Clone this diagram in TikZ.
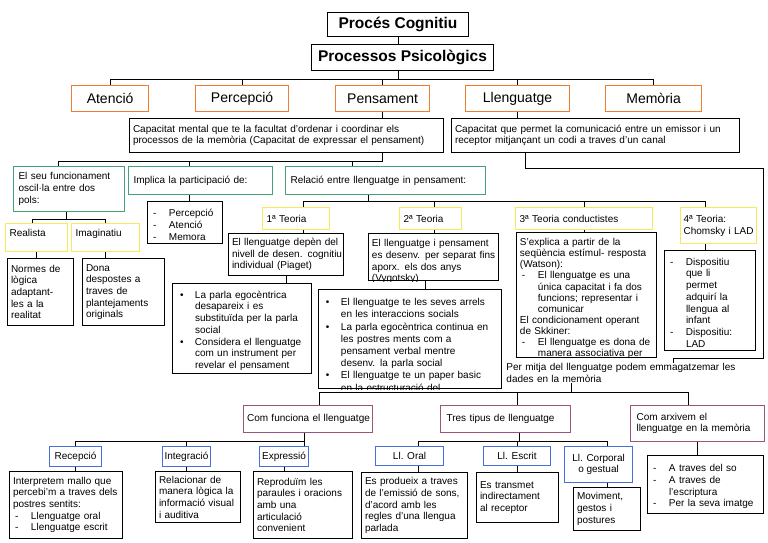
\documentclass[tikz,border=0pt]{standalone}
\usepackage{fontspec}
\setmainfont{Liberation Sans}
\definecolor{OrangeLine}{RGB}{237,125,49}
\definecolor{GreenLine}{RGB}{72,160,120}
\definecolor{YellowLine}{RGB}{246,234,90}
\definecolor{BlueLine}{RGB}{72,110,215}
\definecolor{PlumLine}{RGB}{156,84,120}
\hyphenpenalty=10000
\newcommand{\dashitem}[1]{\par\noindent\hangindent=18pt\hangafter=1\makebox[18pt][l]{\hspace{2pt}-}#1\par}
\newcommand{\bulitem}[1]{\par\noindent\hangindent=19pt\hangafter=1\makebox[19pt][l]{\hspace{4pt}\textbullet}#1\par}

\begin{document}
\begin{tikzpicture}[x=1pt,y=-1pt, line width=0.9pt,
  every node/.style={font=\fontsize{10}{11.7}\selectfont},
  hbox/.style={draw, line width=1pt, anchor=north west, font=\fontsize{15.5}{17}\selectfont\bfseries},
  obox/.style={draw=OrangeLine, line width=1.2pt, anchor=north west, minimum height=26, font=\fontsize{14}{15}\selectfont},
  tbox/.style={draw, line width=1pt, anchor=north west, align=left, inner xsep=3.5pt, inner ysep=3pt},
  gbox/.style={draw=GreenLine, line width=1.1pt, anchor=north west, align=left, inner xsep=5pt},
  ybox/.style={draw=YellowLine, line width=1.2pt, anchor=north west, align=left, inner xsep=4pt},
  bbox/.style={draw=BlueLine, line width=1.1pt, anchor=north west, align=center, inner xsep=2pt},
  mbox/.style={draw=PlumLine, line width=1.1pt, anchor=north west, align=left, inner xsep=6pt}]
  \fill[white] (0,0) rectangle (768,543);
  \useasboundingbox (0,0) rectangle (768,543);

  % titles and first level
  \node[hbox, minimum width=141, minimum height=24] (proc) at (327,12) {Procés Cognitiu};
  \node[hbox, minimum width=182, minimum height=26] (psic) at (311,44) {Processos Psicològics};
  \node[obox, minimum width=77] (aten) at (71,85) {Atenció};
  \node[obox, minimum width=93] (perc) at (195,85) {Percepció};
  \node[obox, minimum width=94] (pens) at (335,85) {Pensament};
  \node[obox, minimum width=104] (llen) at (465,85) {Llenguatge};
  \node[obox, minimum width=96] (memo) at (605,85) {Memòria};
  \draw (proc.south) -- (proc.south |- psic.north);
  \draw (proc.south |- psic.south) -- ++(0,8) -| (aten.north);
  \draw (proc.south |- psic.south) -- ++(0,8) -| (perc.north);
  \draw (proc.south |- psic.south) -- ++(0,8) -| (pens.north);
  \draw (proc.south |- psic.south) -- ++(0,8) -| (llen.north);
  \draw (proc.south |- psic.south) -- ++(0,8) -| (memo.north);

  \node[tbox, text width=307, minimum height=34] (cap1) at (129,118)
    {Capacitat mental que te la facultat d'ordenar i coordinar els\\processos de la memòria (Capacitat de expressar el pensament)};
  \node[tbox, text width=281, minimum height=34] (cap2) at (451,118)
    {Capacitat que permet la comunicació entre un emissor i un\\receptor mitjançant un codi a traves d'un canal};
  \draw (pens.south) -- (pens.south |- cap1.north);
  \draw (llen.south) -- (llen.south |- cap2.north);

  % pensament
  \node[gbox, text width=101, minimum height=45] (seu) at (13,166) {El seu funcionament\\oscil·la entre dos\\pols:};
  \node[gbox, text width=134, minimum height=28] (impl) at (128,166) {Implica la participació de:};
  \node[gbox, text width=190, minimum height=28] (rel) at (285,166) {Relació entre llenguatge in pensament:};
  \draw (pens.south |- cap1.south) -- ++(0,8) -| ([xshift=-11]seu.north);
  \draw (pens.south |- cap1.south) -- ++(0,8) -| ([xshift=-11]impl.north);
  \draw (pens.south |- cap1.south) -- ++(0,8) -| ([xshift=-33]rel.north);

  \node[ybox, text width=54, text height=10, text depth=12, inner ysep=3pt] (real) at (5,223) {Realista};
  \node[ybox, text width=60, text height=10, text depth=12, inner ysep=3pt] (imag) at (71,223) {Imaginatiu};
  \draw ([xshift=-3]seu.south) -- ++(0,7) -| ([xshift=-4]real.north);
  \draw ([xshift=-3]seu.south) -- ++(0,7) -| (imag.north);
  \node[tbox, text width=59, minimum height=67] (nor) at (7,258) {Normes de\\lògica\\adaptant-\\les a la\\realitat};
  \node[tbox, text width=75, minimum height=67] (dona) at (82,258) {Dona\\despostes a\\traves de\\plantejaments\\originals};
  \draw (real.south) -- (real.south |- nor.north);
  \draw (imag.south) -- (imag.south |- dona.north);

  \node[tbox, text width=68, minimum height=42] (plist) at (147,201)
    {\dashitem{Percepció}\dashitem{Atenció}\dashitem{Memora}};
  \draw ([xshift=-11]impl.south) -- ([xshift=-11]impl.south |- plist.north);

  % teories
  \node[ybox, text width=59, minimum height=22] (t1) at (262,207) {1ª Teoria};
  \node[ybox, text width=54, minimum height=22] (t2) at (399,207) {2ª Teoria};
  \node[ybox, text width=129, minimum height=22] (t3) at (515,207) {3ª Teoria conductistes};
  \node[ybox, text width=70, inner xsep=3pt, minimum height=36] (t4) at (680,207) {4ª Teoria:\\\mbox{Chomsky i LAD}};
  \draw ([xshift=-17]rel.south) -- ++(0,6) -| ([xshift=7]t1.north);
  \draw ([xshift=-17]rel.south) -- ++(0,6) -| ([xshift=4]t2.north);
  \draw ([xshift=-17]rel.south) -- ++(0,6) -| (t3.north);
  \draw ([xshift=-17]rel.south) -- ++(0,6) -| ([xshift=-13]t4.north);

  \node[tbox, text width=108, minimum height=42] (d1) at (228,233)
    {El llenguatge depèn del\\\mbox{nivell de desen. cognitiu}\\individual (Piaget)};
  \node[tbox, text width=132, minimum height=90] (e1) at (172,283)
    {\bulitem{La parla egocèntrica\newline desapareix i es\newline substituïda per la parla\newline social}%
     \bulitem{Considera el llenguatge\newline com un instrument per\newline revelar el pensament}};
  \draw ([xshift=7]t1.south) -- ([xshift=7]t1.south |- d1.north);
  \draw (d1.south) -- (d1.south |- e1.north);

  \node[tbox, minimum width=130, minimum height=47] (d2) at (368,233) {};
  \begin{scope}
    \clip (d2.north west) rectangle (d2.south east);
    \node[anchor=north west, align=left, text width=123, inner xsep=3.5pt, inner ysep=6pt] (d2txt) at (d2.north west)
      {El llenguatge i pensament\\\mbox{es desenv. per separat fins}\\aporx. els dos anys\\(Vygotsky)};
  \end{scope}
  \node[tbox, minimum width=183, minimum height=99] (e2) at (318,289) {};
  \begin{scope}
    \clip (e2.north west) rectangle (e2.south east);
    \node[anchor=north west, align=left, text width=176, inner xsep=3.5pt, inner ysep=4pt,
      font=\fontsize{10}{12.2}\selectfont] (e2txt) at (e2.north west)
      {\bulitem{El llenguatge te les seves arrels\newline en les interaccions socials}%
       \bulitem{La parla egocèntrica continua en\newline les postres ments com a\newline pensament verbal mentre\newline desenv. la parla social}%
       \bulitem{El llenguatge te un paper basic\newline en la estructuració del}};
  \end{scope}
  \draw ([xshift=4]t2.south) -- ([xshift=4]t2.south |- d2.north);
  \draw ([xshift=-8]d2.south) -- ([xshift=-8]d2.south |- e2.north);

  \node[tbox, minimum width=140, minimum height=125] (d3) at (516,232) {};
  \begin{scope}
    \clip (d3.north west) rectangle (d3.south east);
    \node[anchor=north west, align=left, text width=133, inner xsep=3.5pt, inner ysep=6pt,
      font=\fontsize{10}{11.1}\selectfont] (d3txt) at (d3.north west)
      {S'explica a partir de la\\seqüència estímul- resposta\\(Watson):%
       \dashitem{El llenguatge es una\newline única capacitat i fa dos\newline funcions; representar i\newline comunicar}%
       \noindent El condicionament operant\newline de Skkiner:%
       \dashitem{El llenguatge es dona de\newline manera associativa per}};
  \end{scope}
  \draw (t3.south) -- (t3.south |- d3.north);

  \node[tbox, text width=84, minimum height=97] (d4) at (664,250)
    {\dashitem{Dispositiu\newline que li\newline permet\newline adquirí la\newline llengua al\newline infant}%
     \dashitem{Dispositiu:\newline LAD}};
  \draw ([xshift=-13]t4.south) -- ([xshift=-13]t4.south |- d4.north);

  % llenguatge
  \node[anchor=north west, align=left, inner sep=0pt, text width=250] (memtxt) at (506,363)
    {Per mitja del llenguatge podem emmagatzemar les\\dades en la memòria};
  \draw ([xshift=-70]cap2.south) -- ++(0,15) -- ++(238,0) -- ++(0,190) -| ([xshift=42]memtxt.north);

  \node[mbox, text width=122, inner xsep=3.5pt, minimum height=27] (cf) at (243,405) {\mbox{Com funciona el llenguatge}};
  \node[mbox, text width=118, minimum height=27] (tt) at (440,405) {Tres tipus de llenguatge};
  \node[mbox, text width=122, minimum height=36] (arx) at (630,405) {Com arxivem el\\llenguatge en la memòria};
  \draw ([xshift=-60]memtxt.south) -- ++(0,10) -| ([xshift=11]cf.north);
  \draw ([xshift=-60]memtxt.south) -- ++(0,10) -| ([xshift=12]tt.north);
  \draw ([xshift=-60]memtxt.south) -- ++(0,10) -| ([xshift=-9]arx.north);

  % com funciona
  \node[bbox, minimum width=52, minimum height=20] (recep) at (49,446) {Recepció};
  \node[bbox, minimum width=45, minimum height=20] (integ) at (162,446) {Integració};
  \node[bbox, minimum width=49, minimum height=20] (expre) at (259,446) {Expressió};
  \draw ([xshift=-4]cf.south) -- ([xshift=-4]cf.south |- expre.north);
  \draw ([xshift=-4]cf.south) -- ++(0,8) -| (recep.north);
  \draw ([xshift=-4]cf.south) -- ++(0,8) -| (integ.north);
  \node[tbox, text width=106, minimum height=67] (trecep) at (9,471)
    {Interpretem mallo que\\percebi'm a traves dels\\postres sentits:%
     \dashitem{Llenguatge oral}\dashitem{Llenguatge escrit}};
  \node[tbox, text width=78, minimum height=51] (tinteg) at (155,471)
    {Relacionar de\\manera lògica la\\informació visual\\i auditiva};
  \node[tbox, text width=92, minimum height=67] (texpre) at (253,471)
    {Reproduïm les\\paraules i oracions\\amb una\\articulació\\convenient};
  \draw (recep.south) -- (recep.south |- trecep.north);
  \draw (integ.south) -- (integ.south |- tinteg.north);
  \draw (expre.south) -- (expre.south |- texpre.north);

  % tres tipus
  \node[bbox, minimum width=68, minimum height=19] (oral) at (375,446) {Ll. Oral};
  \node[bbox, minimum width=67, minimum height=19] (escrit) at (483,446) {Ll. Escrit};
  \node[bbox, minimum width=68, minimum height=36] (corpo) at (564,446) {Ll. Corporal\\o gestual};
  \draw ([xshift=14]tt.south) -- ++(0,8) -| ([xshift=9]oral.north);
  \draw ([xshift=14]tt.south) -- ++(0,8) -| (escrit.north);
  \draw ([xshift=14]tt.south) -- ++(0,8) -| ([xshift=9]corpo.north);
  \node[tbox, text width=99, minimum height=66] (toral) at (361,472)
    {Es produeix a traves\\de l'emissió de sons,\\d'acord amb les\\regles d'una llengua\\parlada};
  \node[tbox, text width=75, minimum height=50] (tescrit) at (476,472)
    {Es transmet\\indirectament\\al receptor};
  \node[tbox, text width=60, minimum height=43] (tcorpo) at (573,487)
    {Moviment,\\gestos i\\postures};
  \draw ([xshift=9]oral.south) -- ([xshift=9]oral.south |- toral.north);
  \draw (escrit.south) -- (escrit.south |- tescrit.north);
  \draw (corpo.south -| tcorpo.north) -- (tcorpo.north);

  % arxivem
  \node[tbox, text width=109, minimum height=58] (tarxiu) at (647,455)
    {\dashitem{A traves del so}\dashitem{A traves de\newline l'escriptura}\dashitem{Per la seva imatge}};
  \draw (arx.south) -- (arx.south |- tarxiu.north);
\end{tikzpicture}
\end{document}
